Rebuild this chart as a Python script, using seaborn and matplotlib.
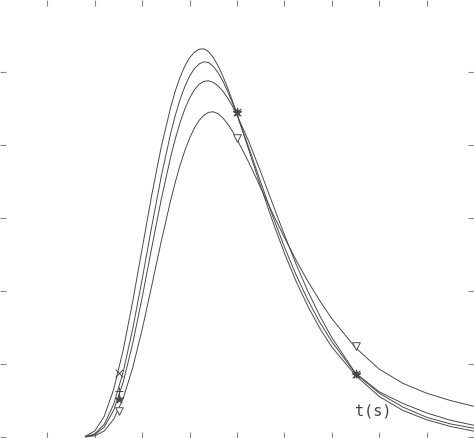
import matplotlib
matplotlib.use("Agg")
import matplotlib.pyplot as plt
import seaborn as sns
import pandas as pd

# sample times (s)
t = [1.8, 2.0, 2.2, 2.4, 2.6, 2.8, 3.0, 3.2, 3.4, 3.6, 3.7, 3.8, 3.9, 4.0,
     4.1, 4.2, 4.3, 4.4, 4.5, 4.6, 4.7, 4.8, 4.9, 5.0, 5.25, 5.5, 5.75,
     6.0, 6.25, 6.5, 6.75, 7.0, 7.5, 8.0, 8.5, 9.0, 9.5, 10.0]

# curves
curve_x = [0.011, 0.083, 0.285, 0.656, 1.194, 1.858, 2.585, 3.309, 3.968, 4.517,
           4.744, 4.931, 5.082, 5.195, 5.271, 5.312, 5.318, 5.28, 5.199, 5.085,
           4.945, 4.785, 4.61, 4.423, 3.93, 3.433, 2.958, 2.52, 2.128, 1.784,
           1.486, 1.233, 0.845, 0.555, 0.364, 0.236, 0.145, 0.08]
curve_plus = [0.004, 0.043, 0.175, 0.452, 0.893, 1.481, 2.164, 2.881, 3.563, 4.158,
              4.41, 4.626, 4.803, 4.944, 5.046, 5.11, 5.14, 5.129, 5.077, 4.991,
              4.877, 4.74, 4.585, 4.416, 3.963, 3.492, 3.03, 2.603, 2.215, 1.87,
              1.568, 1.306, 0.87, 0.6, 0.41, 0.27, 0.18, 0.12]
curve_star = [0.003, 0.032, 0.137, 0.369, 0.754, 1.282, 1.913, 2.59, 3.249, 3.836,
              4.089, 4.309, 4.494, 4.643, 4.756, 4.832, 4.872, 4.88, 4.857, 4.81,
              4.739, 4.647, 4.537, 4.41, 4.046, 3.63, 3.197, 2.77, 2.363, 1.99,
              1.656, 1.362, 0.875, 0.62, 0.46, 0.33, 0.23, 0.16]
curve_tri = [0.001, 0.017, 0.083, 0.244, 0.53, 0.949, 1.476, 2.069, 2.675, 3.241,
             3.496, 3.725, 3.925, 4.093, 4.231, 4.336, 4.407, 4.447, 4.455, 4.429,
             4.372, 4.292, 4.193, 4.08, 3.76, 3.414, 3.066, 2.734, 2.418, 2.127,
             1.863, 1.622, 1.224, 0.93, 0.735, 0.6, 0.5, 0.42]

# marker positions
mark_t = [2.5, 5.0, 7.5]
mark_x = [0.88, 4.456, 0.86]
mark_plus = [0.63, 4.456, 0.86]
mark_star = [0.52, 4.456, 0.86]
mark_tri = [0.356, 4.10, 1.25]

sns.set_style("white")

fig = plt.figure(figsize=(4.74, 4.38), dpi=100)
ax = fig.add_axes([0, 0, 1, 1])

line_col = "#4a4a4a"
curves = [(curve_x, mark_x, "x", 30), (curve_plus, mark_plus, "+", 40),
          (curve_star, mark_star, "*", 40), (curve_tri, mark_tri, "v", 30)]

for vals, mvals, m, s in curves:
    df = pd.DataFrame({"t": t, "y": vals})
    sns.lineplot(data=df, x="t", y="y", ax=ax, color=line_col, lw=0.7,
                 sort=False, estimator=None)
    if m == "v":
        ax.scatter(mark_t, mvals, marker=m, s=s, facecolors="white",
                   edgecolors=line_col, linewidths=0.7, zorder=3)
    else:
        ax.scatter(mark_t, mvals, marker=m, s=s, color=line_col,
                   linewidths=0.7, zorder=3)

ax.text(7.87, 0.356, "t(s)", family="DejaVu Sans Mono", fontsize=11,
        color="#444444", ha="center", va="center")

ax.set_xlim(0, 10)
ax.set_ylim(-1 / 73, 437 / 73)
ax.set_xticks(range(1, 10))
ax.set_yticks(range(0, 6))
ax.tick_params(direction="in", top=True, bottom=True, left=True, right=True,
               length=4.5, width=0.8, color="#888888",
               labelbottom=False, labelleft=False)
ax.set_xlabel("")
ax.set_ylabel("")
for sp in ax.spines.values():
    sp.set_visible(False)

fig.savefig("out.png", dpi=100)
